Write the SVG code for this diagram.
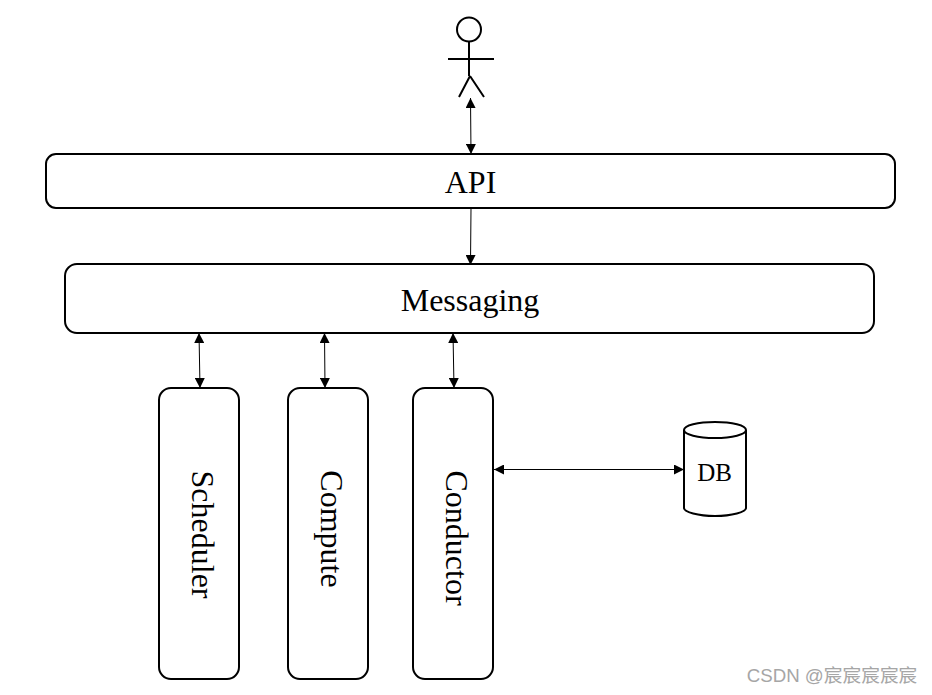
<svg xmlns="http://www.w3.org/2000/svg" width="932" height="695" viewBox="0 0 932 695">
<defs>
<marker id="a" viewBox="0 0 10 10" refX="10" refY="5" markerWidth="10" markerHeight="10" markerUnits="userSpaceOnUse" orient="auto-start-reverse"><path d="M0 0L10 5L0 10Z" fill="#000"/></marker>
</defs>
<style>
.b{fill:#fff;stroke:#000;stroke-width:2}
.c{fill:none;stroke:#000;stroke-width:1;marker-start:url(#a);marker-end:url(#a)}
.s{fill:none;stroke:#000;stroke-width:2}
text{font-family:"Liberation Serif",serif;fill:#000;text-anchor:middle}
</style>
<rect width="932" height="695" fill="#fff"/>
<g id="connectors">
<path class="c" d="M470.500 98L471 154"/>
<path d="M471 208L470.500 265" fill="none" stroke="#000" marker-end="url(#a)"/>
<path class="c" d="M199 333L200 388"/>
<path class="c" d="M324.500 333L325 388"/>
<path class="c" d="M453 333L454 388"/>
<path class="c" d="M494 469.500H684"/>
</g>
<g id="actor"><circle class="s" cx="469" cy="29.500" r="12"/><path class="s" d="M469 42V76M448 59H494M470 76L459 97M470 76L484 97"/></g>
<g id="api"><rect class="b" x="46" y="154" width="849" height="54" rx="10"/><text x="470.500" y="193" font-size="32">API</text></g>
<g id="messaging"><rect class="b" x="65" y="264" width="809" height="69" rx="12"/><text x="470" y="311" font-size="32">Messaging</text></g>
<g id="scheduler"><rect class="b" x="159" y="388" width="80" height="291" rx="12"/><text transform="translate(192 534.500) rotate(90)" font-size="32">Scheduler</text></g>
<g id="compute"><rect class="b" x="288" y="388" width="80" height="291" rx="12"/><text transform="translate(321 529) rotate(90)" font-size="32">Compute</text></g>
<g id="conductor"><rect class="b" x="413" y="388" width="80" height="291" rx="12"/><text transform="translate(446 538) rotate(90)" font-size="32">Conductor</text></g>
<g id="db"><path class="b" d="M684 430V508C684 512 698 516 715 516S746 512 746 508V430"/><ellipse class="b" cx="715" cy="430" rx="31" ry="8"/><text x="714.500" y="481" font-size="25">DB</text></g>
<text x="832" y="682" font-size="18.700" style="font-family:'Liberation Sans','Noto Sans CJK SC',sans-serif;fill:#a6a6a6">CSDN @宸宸宸宸宸</text>
</svg>
